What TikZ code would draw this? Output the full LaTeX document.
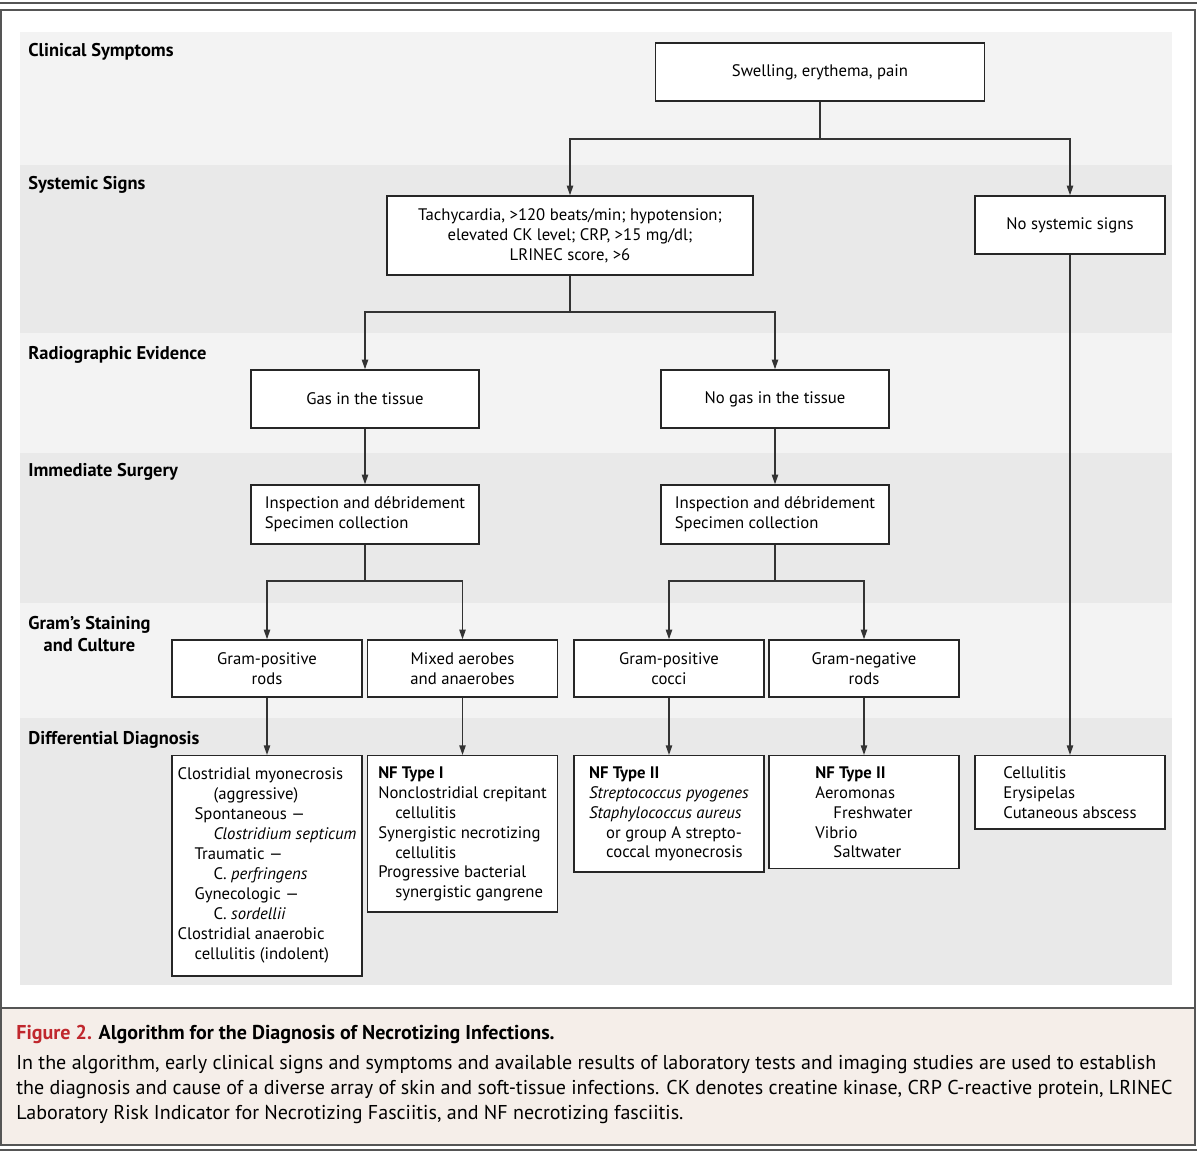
\documentclass[tikz,border=0pt]{standalone}
\usepackage{fontspec}
\setmainfont{PT Sans}
\usetikzlibrary{arrows.meta}

\definecolor{bandlight}{RGB}{243,243,243}
\definecolor{banddark}{RGB}{233,233,233}
\definecolor{capfill}{RGB}{245,238,233}
\definecolor{figred}{RGB}{192,39,45}
\definecolor{framegray}{RGB}{85,85,85}

\begin{document}
\begin{tikzpicture}[
                x=0.02cm, y=-0.02cm,
                every node/.style = {font=\fontsize{9.5}{11.38}\selectfont},
                flowbox/.style = {rectangle, draw=black!85, line width=0.8pt, fill=white, align=center, inner sep=2pt},
                diagbox/.style = {flowbox, anchor=north, align=left, minimum width=3.8cm, inner ysep=6pt},
                rowlabel/.style = {anchor=west, align=center, inner sep=0pt, font=\fontsize{10.5}{12}\selectfont\bfseries},
                link/.style = {draw=black!80, line width=0.8pt},
                arrow/.style = {link, -{Triangle[length=5.5pt,width=3.6pt]}}
        ]
        \useasboundingbox (0,0) rectangle (1200,1156);
        % frame and caption panel
        \draw[framegray, line width=1.2pt] (0,3) -- (1197,3);
        \draw[framegray, line width=1pt] (1,10) rectangle (1195,1008);
        \draw[framegray, line width=1pt, fill=capfill] (1,1008) rectangle (1195,1145);
        \draw[framegray, line width=1.2pt] (0,1150) -- (1197,1150);
        % row bands
        \foreach \top/\bot/\col in {32/165/bandlight, 165/333/banddark, 333/453/bandlight, 453/603/banddark, 603/718/bandlight, 718/985/banddark}
                \fill[\col] (20,\top) rectangle (1172,\bot);

        % row labels
        \node[rowlabel] (lclin) at (28,52) {Clinical Symptoms};
        \node[rowlabel] (lsys) at (28,185) {Systemic Signs};
        \node[rowlabel] (lrad) at (28,355) {Radiographic Evidence};
        \node[rowlabel] (lsurg) at (28,472) {Immediate Surgery};
        \node[rowlabel] (lgram) at (28,634) {Gram’s Staining\\and Culture};
        \node[rowlabel] (ldiff) at (28,740) {Differential Diagnosis};

        % flow boxes
        \node[flowbox, minimum width=6.58cm, minimum height=1.16cm] (swell) at (820,72) {Swelling, erythema, pain};
        \node[flowbox, minimum width=7.32cm, minimum height=1.58cm] (tachy) at (570,235.5) {Tachycardia, >120 beats/min; hypotension;\\elevated CK level; CRP, >15 mg/dl;\\LRINEC score, >6};
        \node[flowbox, minimum width=3.8cm, minimum height=1.16cm] (nosys) at (1070,225) {No systemic signs};
        \node[flowbox, minimum width=4.56cm, minimum height=1.16cm] (gas) at (365,399) {Gas in the tissue};
        \node[flowbox, minimum width=4.56cm, minimum height=1.16cm] (nogas) at (775,399) {No gas in the tissue};
        \node[flowbox, align=left, minimum width=4.56cm, minimum height=1.18cm] (inspa) at (365,514.5) {Inspection and débridement\\Specimen collection};
        \node[flowbox, align=left, minimum width=4.56cm, minimum height=1.18cm] (inspb) at (775,514.5) {Inspection and débridement\\Specimen collection};
        \node[flowbox, minimum width=3.8cm, minimum height=1.14cm] (gprods) at (267,668.5) {Gram-positive\\rods};
        \node[flowbox, minimum width=3.8cm, minimum height=1.14cm] (mixed) at (462.5,668.5) {Mixed aerobes\\and anaerobes};
        \node[flowbox, minimum width=3.8cm, minimum height=1.14cm] (gpcocci) at (669,668.5) {Gram-positive\\cocci};
        \node[flowbox, minimum width=3.8cm, minimum height=1.14cm] (gnrods) at (864,668.5) {Gram-negative\\rods};

        % diagnoses
        \node[diagbox, inner xsep=3pt, inner ysep=7pt] (clostr) at (267,755) {Clostridial myonecrosis\\\hspace*{0.72cm}(aggressive)\\\hspace*{0.34cm}Spontaneous —\\\hspace*{0.72cm}\textit{Clostridium septicum}\\\hspace*{0.34cm}Traumatic —\\\hspace*{0.72cm}C. \textit{perfringens}\\\hspace*{0.34cm}Gynecologic —\\\hspace*{0.72cm}C. \textit{sordellii}\\Clostridial anaerobic\\\hspace*{0.34cm}cellulitis (indolent)};
        \node[diagbox] (nfone) at (462.5,755) {\textbf{NF Type I}\\Nonclostridial crepitant\\\hspace*{0.34cm}cellulitis\\Synergistic necrotizing\\\hspace*{0.34cm}cellulitis\\Progressive bacterial\\\hspace*{0.34cm}synergistic gangrene};
        \node[diagbox] (nftwoa) at (669,755) {\textbf{NF Type II}\\\textit{Streptococcus pyogenes}\\\textit{Staphylococcus aureus}\\\hspace*{0.34cm}or group A strepto-\\\hspace*{0.34cm}coccal myonecrosis};
        \node[diagbox] (nftwob) at (864,755) {\textbf{NF Type II}\\Aeromonas\\\hspace*{0.36cm}Freshwater\\Vibrio\\\hspace*{0.36cm}Saltwater};
        \node[diagbox] (cellu) at (1070,755) {Cellulitis\\Erysipelas\\Cutaneous abscess};

        % connectors
        \coordinate (splita) at (820,139);
        \coordinate (splitb) at (570,312);
        \coordinate (splitc) at (365,581);
        \coordinate (splitd) at (775,581);
        \draw[link] (swell) -- (splita);
        \draw[arrow] (splita) -| (tachy);
        \draw[arrow] (splita) -| (nosys);
        \draw[arrow] (nosys) -- (cellu);
        \draw[link] (tachy) -- (splitb);
        \draw[arrow] (splitb) -| (gas);
        \draw[arrow] (splitb) -| (nogas);
        \draw[arrow] (gas) -- (inspa);
        \draw[arrow] (nogas) -- (inspb);
        \draw[link] (inspa) -- (splitc);
        \draw[arrow] (splitc) -| (gprods);
        \draw[arrow] (splitc) -| (mixed);
        \draw[link] (inspb) -- (splitd);
        \draw[arrow] (splitd) -| (gpcocci);
        \draw[arrow] (splitd) -| (gnrods);
        \draw[arrow] (gprods) -- (clostr);
        \draw[arrow] (mixed) -- (nfone);
        \draw[arrow] (gpcocci) -- (nftwoa);
        \draw[arrow] (gnrods) -- (nftwob);

        % caption
        \node[anchor=west, inner sep=0pt, font=\fontsize{11.4}{14.2}\selectfont\bfseries] (captitle) at (16,1034) {\textcolor{figred}{Figure 2.} Algorithm for the Diagnosis of Necrotizing Infections.};
        \node[anchor=north west, align=left, inner sep=0pt, font=\fontsize{11.4}{14.3}\selectfont] (captext) at (16,1055) {In the algorithm, early clinical signs and symptoms and available results of laboratory tests and imaging studies are used to establish\\the diagnosis and cause of a diverse array of skin and soft-tissue infections. CK denotes creatine kinase, CRP C-reactive protein, LRINEC\\Laboratory Risk Indicator for Necrotizing Fasciitis, and NF necrotizing fasciitis.};
\end{tikzpicture}
\end{document}
